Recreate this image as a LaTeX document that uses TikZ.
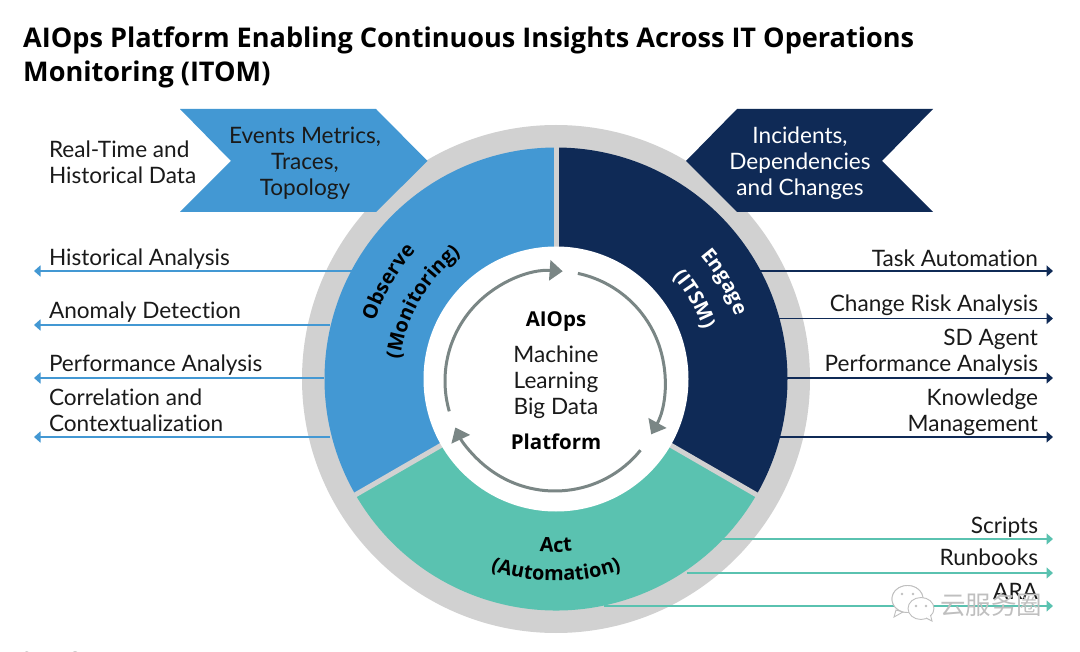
\documentclass[tikz,border=0pt]{standalone}
\usepackage{fontspec}
\setmainfont{Lato}[Ligatures=NoCommon]
\newfontfamily\titlefont{Open Sans}[BoldFont=* Bold]
\newfontfamily\cjkfont{Noto Sans CJK SC}
\usetikzlibrary{arrows.meta,decorations.text}
\definecolor{ringgray}{HTML}{D1D1D1}
\definecolor{obsblue}{HTML}{4398D3}
\definecolor{engnavy}{HTML}{0F2A56}
\definecolor{actteal}{HTML}{5AC2B0}
\definecolor{cyclegray}{HTML}{7A8685}
\definecolor{inktext}{HTML}{1A1A1A}
\tikzset{
  x=1pt,y=1pt,
  body/.style={font=\fontsize{22.6}{26}\selectfont,text=inktext,inner sep=0pt,outer sep=0pt},
  leftlabel/.style={body,anchor=west,align=left},
  rightlabel/.style={body,anchor=east,align=right},
  midlabel/.style={body,align=center},
  boldmid/.style={body,font=\titlefont\fontsize{20.5}{26}\selectfont\bfseries,text=black},
  flow/.style={line width=1.8pt,-{Triangle[length=6.5pt,width=11pt]}},
  cycle/.style={line width=3pt,cyclegray,-{Triangle[length=13pt,width=20pt]}},
  divider/.style={ringgray,line width=5pt},
  ribbon/.style={line join=miter},
  ringword/.style={decorate,decoration={text along path,text align=center,text={#1}}},
  bubble/.style={fill=white,line width=0.9pt,draw=gray!50},
}
\newcommand{\ringbold}{\titlefont\fontsize{20}{24}\selectfont\bfseries}
\begin{document}
\begin{tikzpicture}
\useasboundingbox (0,-652) rectangle (1080,0);
\fill[white] (0,-652) rectangle (1080,0);
\clip (0,-652) rectangle (1080,0);

% title
\node[anchor=north west,inner sep=0pt,font=\titlefont\fontsize{27.1}{33.5}\selectfont\bfseries,align=left,text=black] (title) at (23,-27)
 {AIOps Platform Enabling Continuous Insights Across IT Operations\\Monitoring (ITOM)};

\coordinate (C) at (556,-379);
% ring
\fill[ringgray] (C) circle[radius=254];
\begin{scope}[shift={(C)}]
  \fill[obsblue] (90:231.5) arc[start angle=90,end angle=210,radius=231.5] -- (210:132) arc[start angle=210,end angle=90,radius=132] -- cycle;
  \fill[engnavy] (90:231.5) arc[start angle=90,end angle=-30,radius=231.5] -- (-30:132) arc[start angle=-30,end angle=90,radius=132] -- cycle;
  \fill[actteal] (210:231.5) arc[start angle=210,end angle=330,radius=231.5] -- (330:132) arc[start angle=330,end angle=210,radius=132] -- cycle;
  \draw[divider] (90:130) -- (90:232);
  \draw[divider] (210:130) -- (210:232);
  \draw[divider] (-30:130) -- (-30:232);
  \fill[white] (0,0) circle[radius=132.5];

  % words on the ring
  \path[ringword={|\ringbold|Observe}] (195:190) arc[start angle=195,end angle=105,radius=190];
  \path[ringword={|\ringbold|(Monitoring)}] (205:157) arc[start angle=205,end angle=95,radius=157];
  \path[ringword={|\ringbold\color{white}|Engage}] (75:190) arc[start angle=75,end angle=-15,radius=190];
  \path[ringword={|\ringbold\color{white}|(ITSM)}] (75:155) arc[start angle=75,end angle=-15,radius=155];
  \path[ringword={|\ringbold|Act}] (240:173) arc[start angle=240,end angle=300,radius=173];
  \path[ringword={|\ringbold|(Automation)}] (235:202) arc[start angle=235,end angle=305,radius=202];
\end{scope}
\begin{scope}[shift={(555,-381)}]
  % cycle arrows
  \draw[cycle] (196:110) arc[start angle=196,end angle=86,radius=110];
  \draw[cycle] (78:110) arc[start angle=78,end angle=-29,radius=110];
  \draw[cycle] (-39:110) arc[start angle=-39,end angle=-155,radius=110];
\end{scope}

% ribbons
\fill[obsblue,ribbon] (180,-109) -- (376,-109) -- (427.5,-161) -- (376,-212) -- (180,-212) -- (231,-161) -- cycle;
\fill[engnavy,ribbon] (933,-109) -- (737,-109) -- (686,-161) -- (737,-212) -- (933,-212) -- (882,-161) -- cycle;
\node[midlabel] (evt) at (305,-163.5) {Events Metrics,\\Traces,\\Topology};
\node[midlabel,text=white] (inc) at (800,-163.5) {Incidents,\\Dependencies\\and Changes};
\node[leftlabel] (rt) at (49,-162) {Real-Time and\\Historical Data};

% centre
\node[boldmid] (aiops) at (556,-321.5) {AIOps};
\node[midlabel] (ml) at (556,-382.5) {Machine\\Learning\\Big Data};
\node[boldmid] (plat) at (556,-442) {Platform};

% left outputs
\node[leftlabel] (l1) at (49,-259) {Historical Analysis};
\node[leftlabel] (l2) at (49,-312) {Anomaly Detection};
\node[leftlabel] (l3) at (49,-365) {Performance Analysis};
\node[leftlabel] (l4) at (49,-410) {Correlation and\\Contextualization};
\coordinate (ls1) at (352,-271); \coordinate (le1) at (34,-271);
\coordinate (ls2) at (330,-325); \coordinate (le2) at (34,-325);
\coordinate (ls3) at (324,-378); \coordinate (le3) at (34,-378);
\coordinate (ls4) at (330,-437); \coordinate (le4) at (34,-437);
\foreach \i in {1,2,3,4} \draw[flow,obsblue] (ls\i) -- (le\i);

% right outputs
\node[rightlabel] (r1) at (1038,-258) {Task Automation};
\node[rightlabel] (r2) at (1038,-305.5) {Change Risk Analysis};
\node[rightlabel] (r3) at (1038,-352) {SD Agent\\Performance Analysis};
\node[rightlabel] (r4) at (1038,-412) {Knowledge\\Management};
\coordinate (rs1) at (760,-271); \coordinate (re1) at (1053,-271);
\coordinate (rs2) at (779,-318.5); \coordinate (re2) at (1053,-318.5);
\coordinate (rs3) at (787,-378); \coordinate (re3) at (1053,-378);
\coordinate (rs4) at (779,-437); \coordinate (re4) at (1053,-437);
\foreach \i in {1,2,3,4} \draw[flow,engnavy] (rs\i) -- (re\i);

% act outputs
\node[rightlabel] (a1) at (1038,-527.5) {Scripts};
\node[rightlabel] (a2) at (1038,-557.5) {Runbooks};
\node[rightlabel] (a3) at (1038,-591.5) {ARA};
\coordinate (as1) at (722,-539); \coordinate (ae1) at (1053,-539);
\coordinate (as2) at (687,-573); \coordinate (ae2) at (1053,-573);
\coordinate (as3) at (604,-606); \coordinate (ae3) at (1053,-606);
\foreach \i in {1,2,3} \draw[flow,actteal] (as\i) -- (ae\i);

% source line, cut by the page edge
\node[anchor=base west,inner sep=0pt,font=\fontsize{13}{15}\selectfont,text=gray] (src) at (23,-661) {Source: Gartner};

% watermark
\fill[bubble] (907.5,-599) ellipse[x radius=15.5,y radius=13.5];
\fill[bubble,draw=gray!50] (896,-610) -- (894,-617) -- (903,-612) -- cycle;
\draw[bubble] (907.5,-599) ellipse[x radius=15.5,y radius=13.5];
\draw[bubble] (921,-608.5) ellipse[x radius=13,y radius=11];
\draw[bubble] (926,-618) -- (932,-621) -- (930.5,-615);
\fill[gray!50] (902,-594) circle[radius=1.4] (913,-594) circle[radius=1.4] (916,-606) circle[radius=1.4] (926,-606) circle[radius=1.4];
\node[inner sep=0pt,font=\cjkfont\fontsize{25.5}{27}\selectfont,text=gray!50] (wm) at (991,-605) {云服务圈};
\end{tikzpicture}
\end{document}
